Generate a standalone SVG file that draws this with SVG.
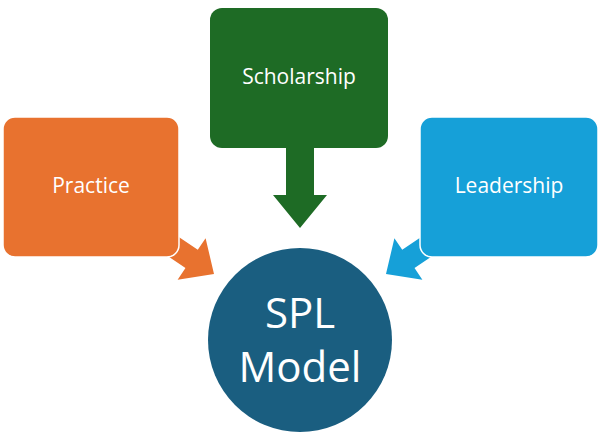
<svg xmlns="http://www.w3.org/2000/svg" width="600" height="433" viewBox="0 0 600 433">
<style>
.t{font-family:"Open Sans","Liberation Sans",sans-serif;fill:#fff;text-anchor:middle}
.s{font-size:21px}
.b{font-size:42px}
</style>
<defs><path id="arr" d="M-60,-11H0V-25L27,0L0,25V11H-60Z"/></defs>
<rect width="600" height="433" fill="#fff"/>
<g id="connectors">
<use href="#arr" fill="#e8722f" transform="translate(214,274) rotate(34) translate(-27,0)"/>
<use href="#arr" fill="#16a0d8" transform="translate(386,274) rotate(146) translate(-27,0)"/>
<path d="M286,140H314V195H327L300,228L273,195H286Z" fill="#1e6b25"/>
</g>
<g id="practice"><rect x="3" y="117" width="176" height="140" rx="12" fill="#e8722f" stroke="#fff" stroke-width="1.5"/><text class="t s" x="91" y="193">Practice</text></g>
<g id="leadership"><rect x="420" y="117" width="178" height="140" rx="12" fill="#16a0d8" stroke="#fff" stroke-width="1.5"/><text class="t s" x="509" y="193">Leadership</text></g>
<g id="scholarship"><rect x="210" y="8" width="178" height="140" rx="12" fill="#1e6b25"/><text class="t s" x="299" y="84">Scholarship</text></g>
<g id="spl"><circle cx="300" cy="340" r="92" fill="#1a5e80"/><text class="t b" x="300" y="328">SPL</text><text class="t b" x="300" y="382">Model</text></g>
</svg>
